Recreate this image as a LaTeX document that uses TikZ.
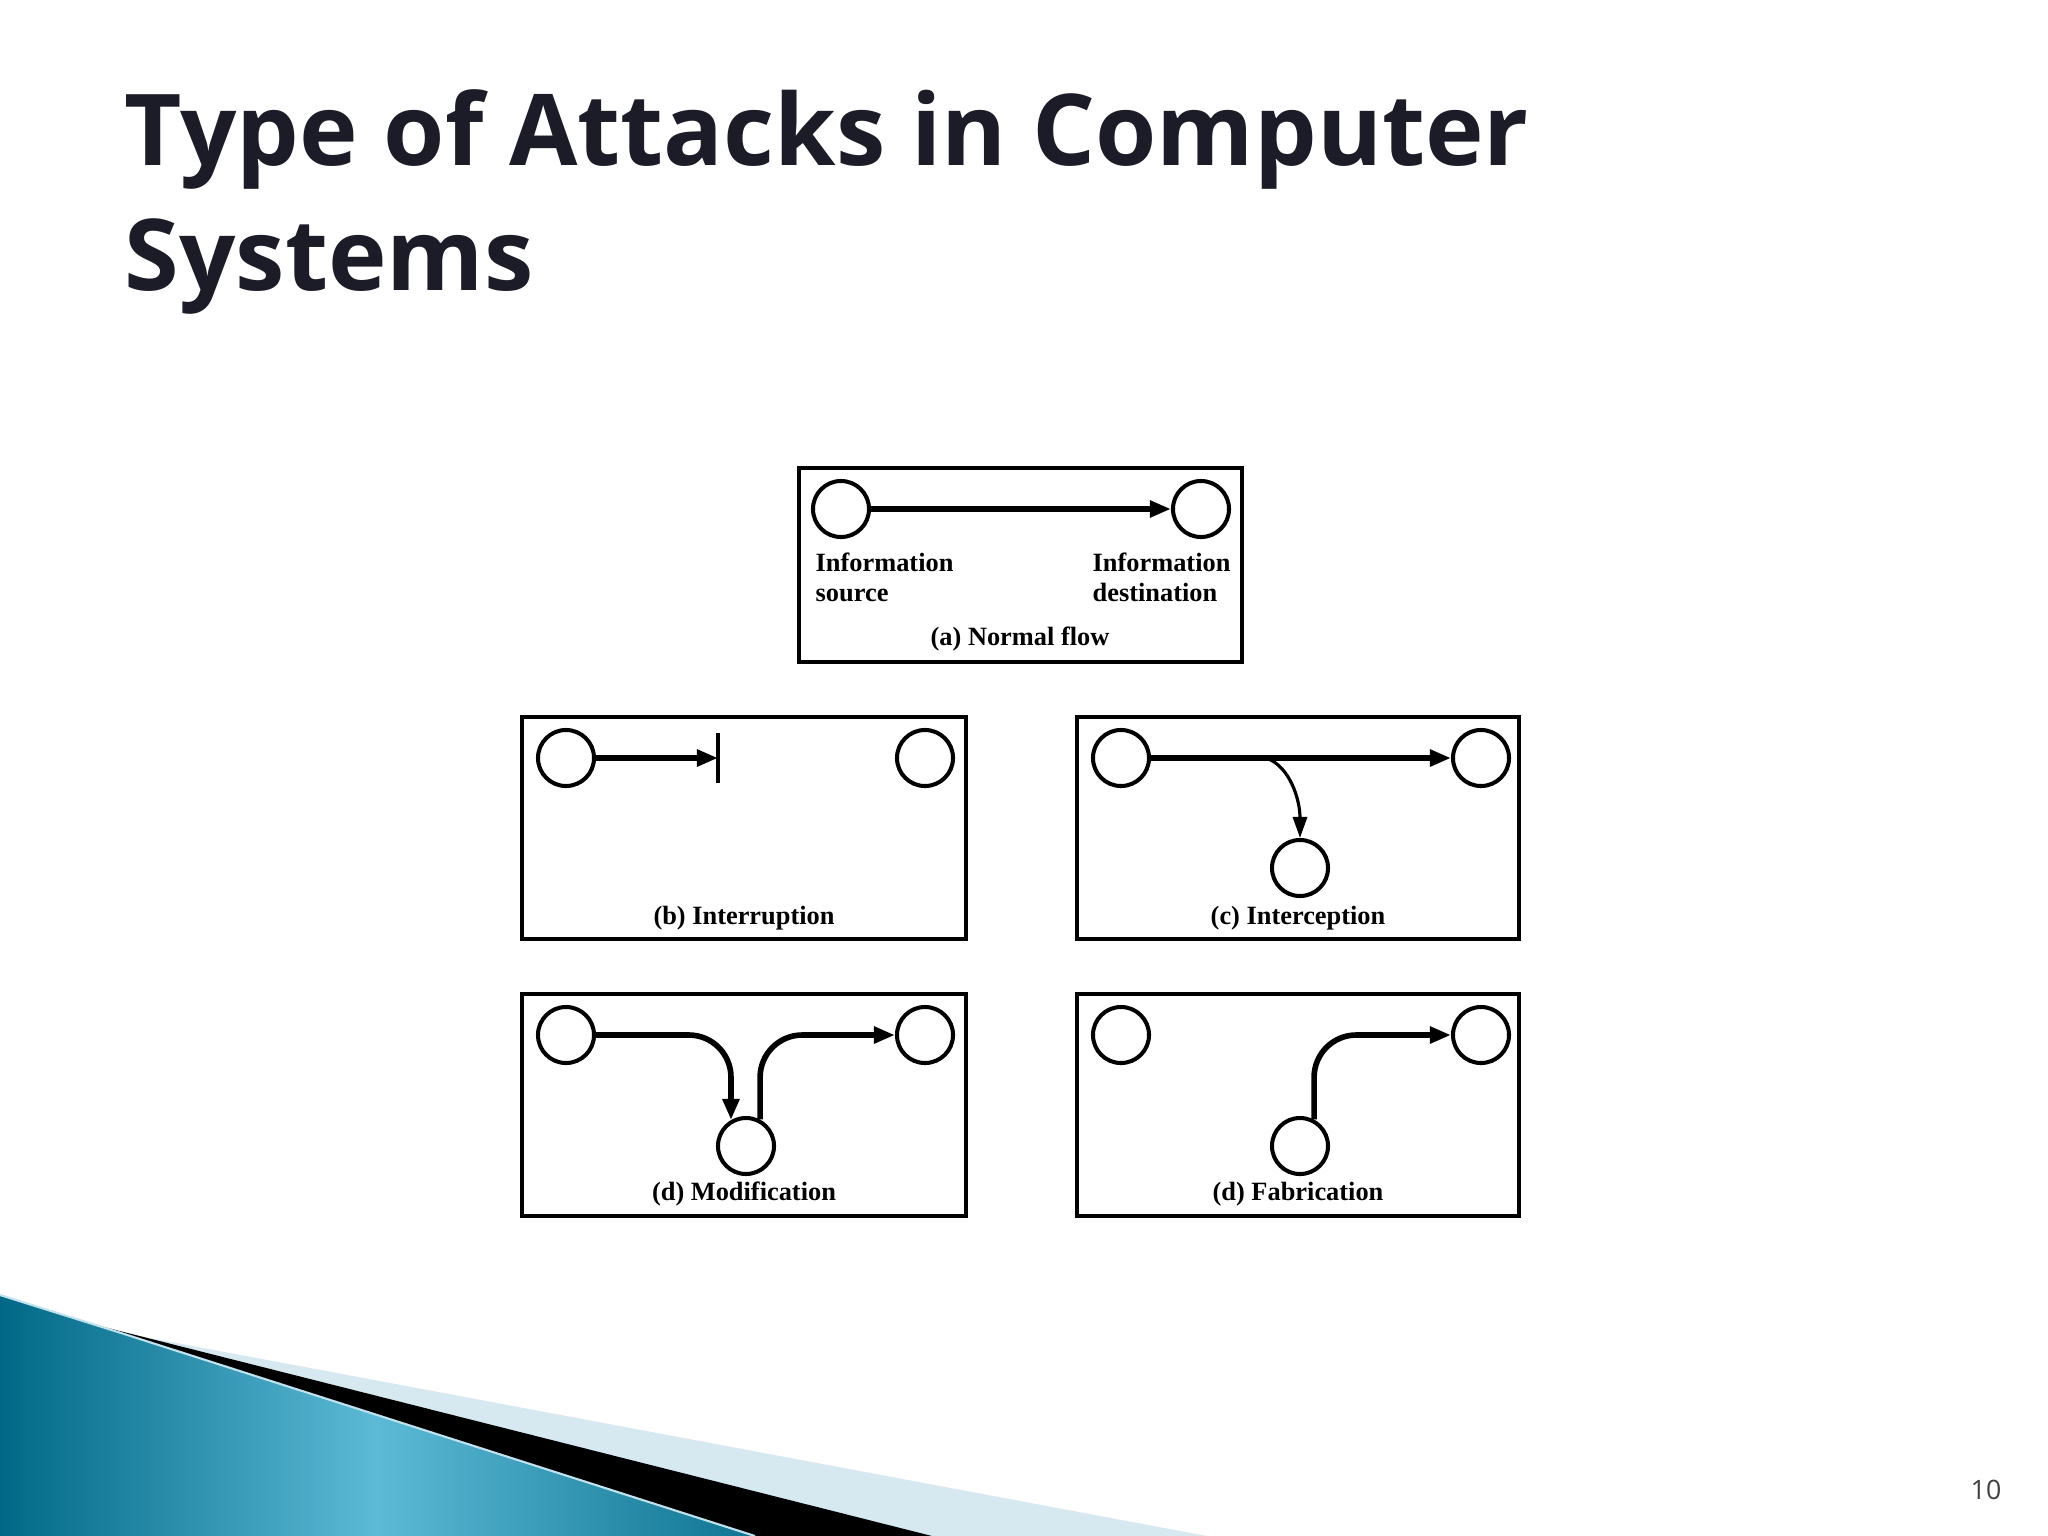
\documentclass[tikz,border=0pt]{standalone}
\usepackage{fontspec}
\setmainfont{Liberation Serif}
\newfontfamily\slidefont{Open Sans}
\usetikzlibrary{arrows.meta}
\definecolor{titleink}{RGB}{28,28,40}
\definecolor{tealdark}{RGB}{0,104,134}
\definecolor{teallight}{RGB}{92,186,214}
\definecolor{paleblue}{RGB}{214,232,240}

\begin{document}
\begin{tikzpicture}[x=0.01cm,y=-0.01cm,
    station/.style={draw,circle,line width=1.15pt,minimum size=0.56cm,inner sep=0pt},
    panel/.style={draw,line width=1.1pt},
    flow/.style={line width=1.6pt,-{Triangle[length=6pt,width=4.6pt]}},
    caption/.style={font=\bfseries\fontsize{7.5}{8.3}\selectfont,inner sep=0pt}]
    \useasboundingbox (0,0) rectangle (2048,1536);
    % title and page number
    \node[anchor=base west,align=left,inner sep=0pt,text=titleink,
          font=\slidefont\bfseries\fontsize{28.2}{35.3}\selectfont] (title) at (124,290)
          {Type of Attacks in Computer\\Systems};
    \node[anchor=base west,inner sep=0pt,text=black!75,
          font=\slidefont\fontsize{7.6}{9}\selectfont] (pageno) at (1970,1499) {10};
    % corner decoration
    \fill[paleblue] (0,1295)--(118,1332)--(1207,1536)--(0,1536)--cycle;
    \fill[black] (100,1326)--(932,1536)--(755,1536)--cycle;
    \shade[left color=tealdark,right color=tealdark!85!teallight,middle color=teallight]
          (0,1295)--(118,1332)--(755,1536)--(0,1536)--cycle;
    \draw[white!60!teallight,line width=0.6pt] (0,1295)--(118,1332)--(755,1536);
    % (a) normal flow
    \draw[panel] (799,468) rectangle (1242,662);
    \node[station] (a1) at (841,509) {};
    \node[station] (a2) at (1201,509) {};
    \draw[flow] (a1) -- (a2);
    \node[caption,anchor=base west,align=left] (asrc) at (815,601) {Information\\source};
    \node[caption,anchor=base west,align=left] (adst) at (1092,601) {Information\\destination};
    \node[caption,anchor=base] (acap) at (1020,645) {(a) Normal flow};
    % (b) interruption
    \draw[panel] (522,717) rectangle (966,939);
    \node[station] (b1) at (566,758) {};
    \node[station] (b2) at (925,758) {};
    \coordinate (bcut) at (718,758);
    \draw[flow] (b1) -- (bcut);
    \draw[line width=1.3pt] ([yshift=-7pt]bcut) -- ([yshift=7pt]bcut);
    \node[caption,anchor=base] (bcap) at (744,924) {(b) Interruption};
    % (c) interception
    \draw[panel] (1077,717) rectangle (1519,939);
    \node[station] (c1) at (1121,758) {};
    \node[station] (c2) at (1481,758) {};
    \node[station] (c3) at (1300,868) {};
    \draw[flow] (c1) -- (c2);
    \coordinate (ctap) at (1266,758);
    \draw[line width=0.9pt,-{Triangle[length=6pt,width=4pt]}]
          (ctap) .. controls (1290,766) and (1300,800) .. (c3.north);
    \node[caption,anchor=base] (ccap) at (1298,924) {(c) Interception};
    % (d) modification
    \draw[panel] (522,994) rectangle (966,1216);
    \node[station] (d1) at (566,1035) {};
    \node[station] (d2) at (925,1035) {};
    \node[station] (d3) at (746,1146) {};
    \draw[flow,rounded corners=12] (d1) -| (d3.120);
    \draw[flow,rounded corners=12] (d3.62) |- (d2);
    \node[caption,anchor=base] (dcap) at (744,1200) {(d) Modification};
    % (e) fabrication
    \draw[panel] (1077,994) rectangle (1519,1216);
    \node[station] (e1) at (1121,1035) {};
    \node[station] (e2) at (1481,1035) {};
    \node[station] (e3) at (1300,1146) {};
    \draw[flow,rounded corners=12] (e3.62) |- (e2);
    \node[caption,anchor=base] (ecap) at (1298,1200) {(d) Fabrication};
\end{tikzpicture}
\end{document}
